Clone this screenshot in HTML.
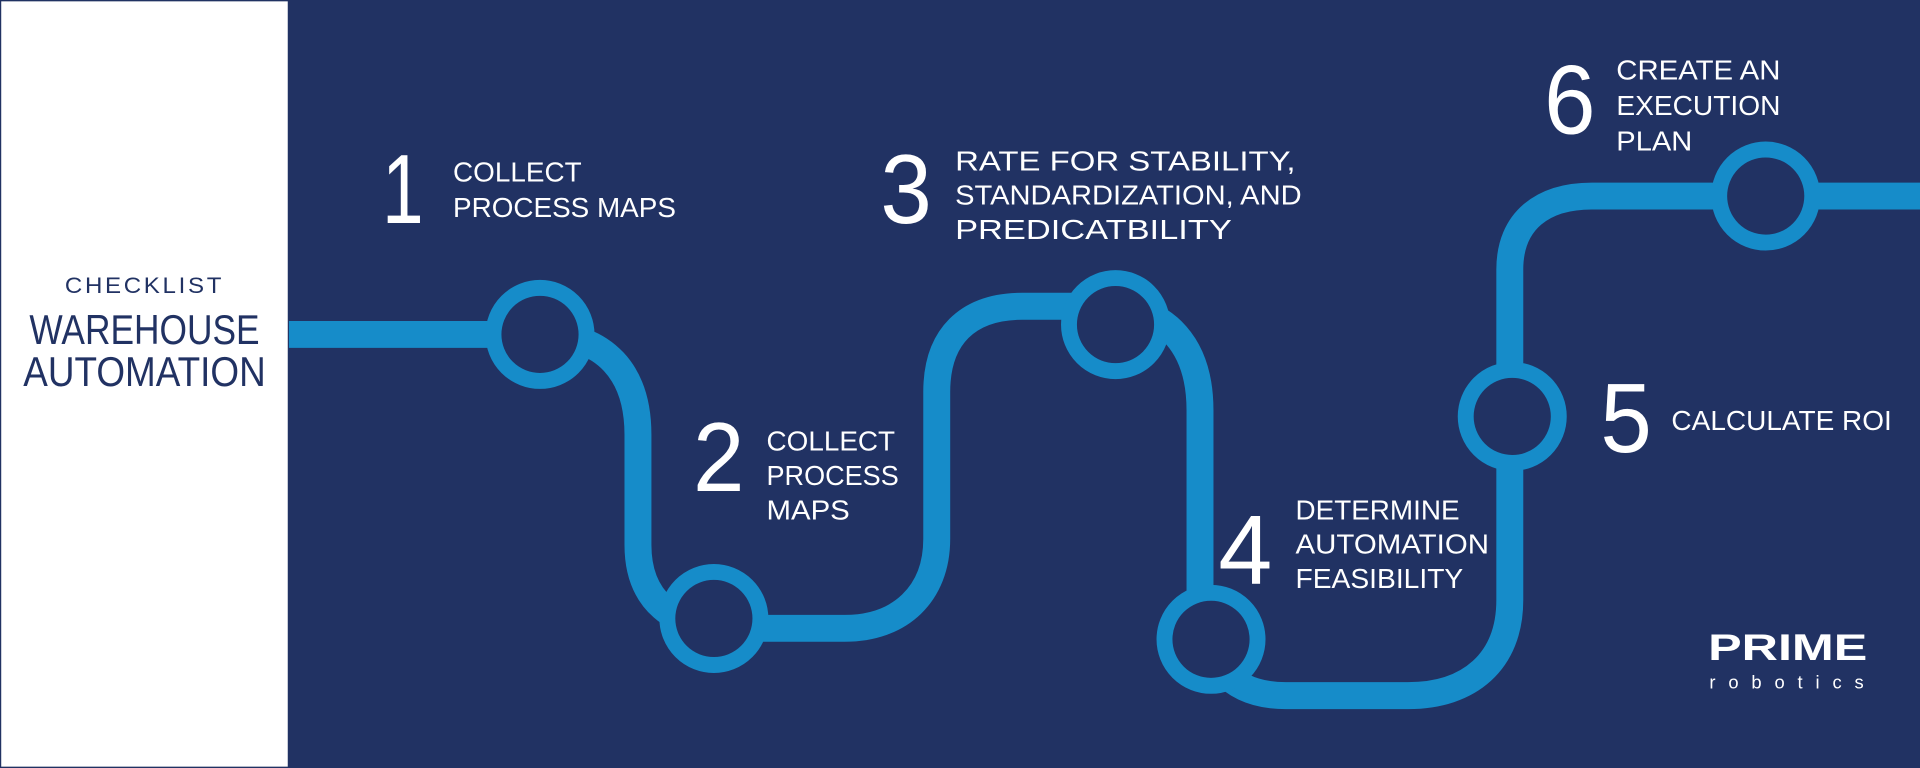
<!DOCTYPE html>
<html><head><meta charset="utf-8"><style>
html,body{margin:0;padding:0;background:#213263;}
svg{display:block}
text{font-family:"Liberation Sans",sans-serif;}
</style></head><body>
<svg width="1920" height="768" viewBox="0 0 1568 627" xmlns="http://www.w3.org/2000/svg">
<rect x="0" y="0" width="1568" height="627" fill="#213263"/>
<rect x="0.5" y="0.5" width="235" height="626" fill="#ffffff" stroke="#213263" stroke-width="1"/>
<path d="M236,273 H440 C495,273 521,305 521,355 V445 C521,490 550,513 595,513 H690 C735,513 765,485 765,440 V320 C765,275 790,250 835,250 H900 C955,250 980,285 980,335 V490 C980,540 1005,568 1050,568 H1150 C1200,568 1233,540 1233,490 V220 C1233,180 1260,160 1300,160 H1568" fill="none" stroke="#168CC9" stroke-width="22"/>
<g fill="#213263" stroke="#168CC9" stroke-width="13">
<circle cx="441" cy="273" r="38"/>
<circle cx="583" cy="505" r="38"/>
<circle cx="911" cy="265" r="38"/>
<circle cx="989" cy="522" r="38"/>
<circle cx="1235" cy="340" r="38"/>
<circle cx="1442" cy="160" r="38"/>
</g>
<g fill="#213263" text-anchor="middle">
<text x="118" y="239" font-size="18" letter-spacing="2" textLength="130" lengthAdjust="spacingAndGlyphs">CHECKLIST</text>
<text x="118" y="281" font-size="34" textLength="188" lengthAdjust="spacingAndGlyphs">WAREHOUSE</text>
<text x="118" y="315" font-size="34" textLength="198" lengthAdjust="spacingAndGlyphs">AUTOMATION</text>
</g>
<g fill="#ffffff">
<text x="312" y="182" font-size="80" textLength="34" lengthAdjust="spacingAndGlyphs">1</text>
<text x="370" y="148" font-size="23" textLength="105" lengthAdjust="spacingAndGlyphs">COLLECT</text>
<text x="370" y="177" font-size="23" textLength="182" lengthAdjust="spacingAndGlyphs">PROCESS MAPS</text>
<text x="566" y="401" font-size="80" textLength="42" lengthAdjust="spacingAndGlyphs">2</text>
<text x="626" y="368" font-size="23" textLength="105" lengthAdjust="spacingAndGlyphs">COLLECT</text>
<text x="626" y="396" font-size="23" textLength="108" lengthAdjust="spacingAndGlyphs">PROCESS</text>
<text x="626" y="424" font-size="23" textLength="68" lengthAdjust="spacingAndGlyphs">MAPS</text>
<text x="719" y="182" font-size="80" textLength="42" lengthAdjust="spacingAndGlyphs">3</text>
<text x="780" y="139" font-size="23" textLength="278" lengthAdjust="spacingAndGlyphs">RATE FOR STABILITY,</text>
<text x="780" y="167" font-size="23" textLength="283" lengthAdjust="spacingAndGlyphs">STANDARDIZATION, AND</text>
<text x="780" y="195" font-size="23" textLength="226" lengthAdjust="spacingAndGlyphs">PREDICATBILITY</text>
<text x="995" y="477" font-size="80" textLength="44" lengthAdjust="spacingAndGlyphs">4</text>
<text x="1058" y="424" font-size="23" textLength="134" lengthAdjust="spacingAndGlyphs">DETERMINE</text>
<text x="1058" y="452" font-size="23" textLength="158" lengthAdjust="spacingAndGlyphs">AUTOMATION</text>
<text x="1058" y="480" font-size="23" textLength="137" lengthAdjust="spacingAndGlyphs">FEASIBILITY</text>
<text x="1307" y="369" font-size="80" textLength="42" lengthAdjust="spacingAndGlyphs">5</text>
<text x="1365" y="351" font-size="23" textLength="180" lengthAdjust="spacingAndGlyphs">CALCULATE ROI</text>
<text x="1261" y="109" font-size="80" textLength="42" lengthAdjust="spacingAndGlyphs">6</text>
<text x="1320" y="65" font-size="23" textLength="134" lengthAdjust="spacingAndGlyphs">CREATE AN</text>
<text x="1320" y="94" font-size="23" textLength="134" lengthAdjust="spacingAndGlyphs">EXECUTION</text>
<text x="1320" y="123" font-size="23" textLength="62" lengthAdjust="spacingAndGlyphs">PLAN</text>
<text x="1395" y="539" font-size="30" font-weight="bold" textLength="130" lengthAdjust="spacingAndGlyphs">PRIME</text>
<text x="1396" y="562" font-size="15" textLength="126" lengthAdjust="spacing">robotics</text>
</g>
</svg>
</body></html>
